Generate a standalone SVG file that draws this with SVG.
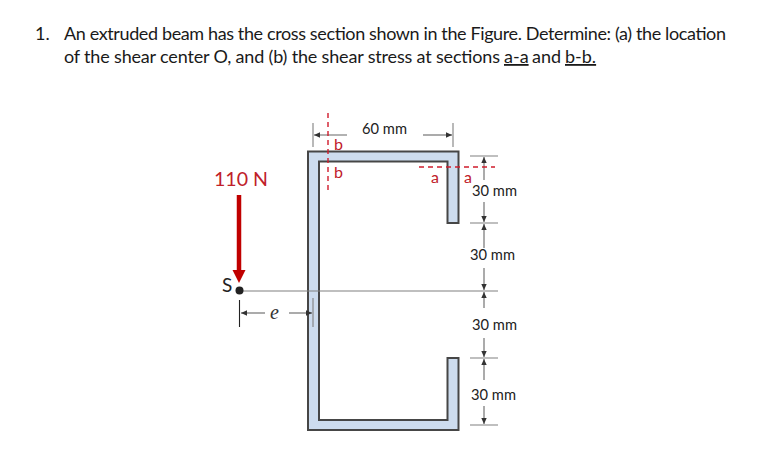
<svg xmlns="http://www.w3.org/2000/svg" width="757" height="463" viewBox="0 0 757 463">
<defs>
<marker id="ah" markerUnits="userSpaceOnUse" markerWidth="6" markerHeight="6" refX="6" refY="3" orient="auto"><path d="M0 0.300L6 3L0 5.700z" fill="#333"/></marker>
</defs>
<style>
.t{font-family:"Lato","Carlito","Liberation Sans",sans-serif;font-size:18px;fill:#1a1a1a}
.d{font-family:"Lato","Carlito","Liberation Sans",sans-serif;font-size:15px;fill:#222}
.r{font-family:"Lato","Carlito","Liberation Sans",sans-serif;font-size:16px;fill:#c0202a}
.ext{stroke:#808080;stroke-width:1.1;fill:none}
.dim{stroke:#666;stroke-width:1.1;fill:none;marker-end:url(#ah)}
.cut{stroke:#d01c2c;stroke-width:1.4;stroke-dasharray:5 4;fill:none}
</style>
<rect width="757" height="463" fill="#fff"/>
<g id="heading">
<text class="t" x="35" y="40">1.</text>
<text class="t" x="64" y="40" textLength="662">An extruded beam has the cross section shown in the Figure. Determine: (a) the location</text>
<text class="t" x="64" y="63" textLength="436">of the shear center O, and (b) the shear stress at sections</text>
<text class="t" x="504" y="63" text-decoration="underline">a-a</text>
<text class="t" x="532" y="63">and</text>
<text class="t" x="565" y="63" text-decoration="underline">b-b.</text>
</g>
<g id="beam">
<path d="M308 151.500H458.500V223H447.500V161.500H319V420H447.500V358H458.500V430H308Z" fill="#cddcee" stroke="#464646" stroke-width="2"/>
</g>
<g id="connectors">
<path class="ext" d="M313 123V147M453 123V147M470 156H498M470 223H498M239 291H498M470 358H498M470 425H498M313 298V327"/>
<path d="M239.500 300V327" stroke="#222" stroke-width="1.100" fill="none"/>
<path class="dim" d="M347 135H314"/>
<path class="dim" d="M423 135H452"/>
<path class="dim" d="M484 180V157"/>
<path class="dim" d="M484 202V222"/>
<path class="dim" d="M484 268V290"/>
<path class="dim" d="M484 308V292"/>
<path class="dim" d="M484 338V357"/>
<path class="dim" d="M484 380V359"/>
<path class="dim" d="M484 406V424"/>
<path class="dim" d="M484 248V224"/>
<path class="dim" d="M265 313H241"/>
<path class="dim" d="M289 313H312"/>
<path class="cut" d="M328 113V191"/>
<path class="cut" d="M419 167H495"/>
<path d="M239 195V271" stroke="#c00000" stroke-width="4.500" fill="none"/>
<path d="M232.500 270H245.500L239 283Z" fill="#c00000"/>
</g>
<g id="load">
<circle cx="239.500" cy="290.500" r="4" fill="#222"/>
<text x="214" y="186" font-family="Lato,Carlito,'Liberation Sans',sans-serif" font-size="19" fill="#c0202a" textLength="54" lengthAdjust="spacingAndGlyphs">110 N</text>
<text x="222" y="292" font-family="Lato,Carlito,'Liberation Sans',sans-serif" font-size="19" fill="#222">S</text>
<text x="270" y="319" font-family="'Liberation Serif',serif" font-style="italic" font-size="20" fill="#333">e</text>
</g>
<g id="labels">
<text class="d" x="362" y="134" textLength="45" lengthAdjust="spacingAndGlyphs">60 mm</text>
<text class="d" x="472" y="196" textLength="45" lengthAdjust="spacingAndGlyphs">30 mm</text>
<text class="d" x="470" y="260" textLength="45" lengthAdjust="spacingAndGlyphs">30 mm</text>
<text class="d" x="472" y="330" textLength="45" lengthAdjust="spacingAndGlyphs">30 mm</text>
<text class="d" x="471" y="400" textLength="45" lengthAdjust="spacingAndGlyphs">30 mm</text>
<text class="r" x="334" y="150">b</text>
<text class="r" x="334" y="178">b</text>
<text class="r" x="431" y="183">a</text>
<text class="r" x="464" y="183">a</text>
</g>
</svg>
